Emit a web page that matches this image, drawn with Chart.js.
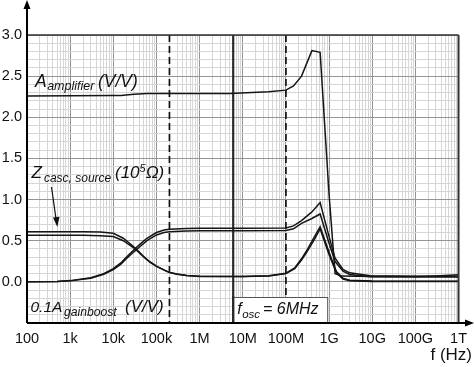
<!DOCTYPE html>
<html lang="en">
<head>
  <meta charset="UTF-8">
  <title>Amplifier gain, gain-boost gain and impedance vs frequency</title>
  <script src="https://cdn.jsdelivr.net/npm/chart.js@4.4.1/dist/chart.umd.min.js"></script>
  <style>
    html, body { margin:0; padding:0; background:#fff; }
    #wrap { width:474px; height:367px; }
  </style>
</head>
<body>
  <div id="wrap"><canvas id="chart" width="474" height="367"></canvas></div>
  <script>
    // values, frequency in Hz
    const ampFreq = [1e2, 1e3, 1e4, 1.5e4, 3e4, 6e4, 1e5, 1e6, 5e6, 4e7, 1e8, 1.5e8, 2.3e8, 4e8, 6.2e8, 1.0e9, 1.38e9, 2e9, 1e10, 1e11, 3e11, 1e12];
    const ampVal  = [2.26, 2.262, 2.264, 2.266, 2.28, 2.29, 2.29, 2.29, 2.29, 2.31, 2.33, 2.38, 2.50, 2.81, 2.79, 1.06, 0.10, 0.07, 0.065, 0.065, 0.072, 0.085];

    const zFreq = [1e2, 2e3, 5e3, 1e4, 1.7e4, 2.5e4, 3.2e4, 5e4, 7e4, 1e5, 1.5e5, 2e5, 3e5, 5e5, 1e6, 1e7, 4e7, 1e8, 1.6e8, 2.3e8, 3.2e8, 4.5e8, 6.2e8, 1.0e9, 1.48e9, 2.1e9, 3e9, 1e10, 1e12];
    const zCascVal   = [0.61, 0.61, 0.605, 0.59, 0.53, 0.46, 0.41, 0.31, 0.245, 0.19, 0.145, 0.115, 0.095, 0.078, 0.067, 0.065, 0.075, 0.105, 0.17, 0.28, 0.40, 0.54, 0.67, 0.36, 0.125, 0.045, 0.02, 0.01, 0.008];
    const zSourceVal = [0.565, 0.565, 0.56, 0.55, 0.50, 0.44, 0.40, 0.305, 0.24, 0.188, 0.143, 0.113, 0.093, 0.077, 0.066, 0.064, 0.072, 0.10, 0.16, 0.265, 0.38, 0.51, 0.645, 0.33, 0.11, 0.035, 0.012, 0.005, 0.004];

    const gbFreq = [1e2, 5e2, 1e3, 3e3, 6e3, 1e4, 1.5e4, 2e4, 3e4, 4e4, 6e4, 1e5, 1.5e5, 2e5, 5e5, 1e6, 1e7, 1e8, 1.5e8, 2.3e8, 4e8, 6.2e8, 1.0e9, 1.37e9, 2.1e9, 3e9, 9e9, 1e11, 1e12];
    const gbCascVal   = [0.0, 0.005, 0.015, 0.05, 0.1, 0.16, 0.23, 0.30, 0.39, 0.45, 0.53, 0.60, 0.63, 0.64, 0.648, 0.65, 0.652, 0.655, 0.68, 0.745, 0.85, 0.965, 0.55, 0.29, 0.15, 0.11, 0.075, 0.068, 0.068];
    const gbSourceVal = [0.0, 0.004, 0.012, 0.045, 0.092, 0.15, 0.215, 0.28, 0.365, 0.42, 0.50, 0.57, 0.60, 0.61, 0.617, 0.62, 0.622, 0.625, 0.645, 0.71, 0.77, 0.825, 0.47, 0.25, 0.13, 0.09, 0.062, 0.058, 0.058];

    const decadeLabels = ['100', '1k', '10k', '100k', '1M', '10M', '100M', '1G', '10G', '100G', '1T'];
    const dashedFreqs = [2e5, 1e8];
    const oscFreq = 6e6;

    const FONT = '"Liberation Sans", Arial, Helvetica, sans-serif';
    const toPts = (f, v) => f.map((x, i) => ({ x, y: v[i] }));
    const isDecade = v => Math.abs(Math.log10(v) - Math.round(Math.log10(v))) < 1e-9;
    const isHalf = v => Math.abs(v * 2 - Math.round(v * 2)) < 1e-6;

    function series(f, v) {
      return { data: toPts(f, v), showLine: true, borderColor: '#151515', borderWidth: 1.5, pointRadius: 0, tension: 0 };
    }

    function txt(ctx, s, x, y, size, italic) {
      ctx.font = (italic ? 'italic ' : '') + size + 'px ' + FONT;
      ctx.fillText(s, x, y);
      return x + ctx.measureText(s).width;
    }

    const decor = {
      id: 'decor',
      beforeDatasetsDraw(chart) {
        const { ctx, chartArea: a, scales: { x } } = chart;
        ctx.save();
        ctx.strokeStyle = '#111';
        ctx.lineWidth = 1.7;
        ctx.setLineDash([7, 4]);
        dashedFreqs.forEach(f => {
          const px = x.getPixelForValue(f);
          ctx.beginPath(); ctx.moveTo(px, a.top); ctx.lineTo(px, a.bottom); ctx.stroke();
        });
        ctx.setLineDash([]);
        ctx.strokeStyle = '#2a2a2a';
        ctx.lineWidth = 2.2;
        const ox = x.getPixelForValue(oscFreq);
        ctx.beginPath(); ctx.moveTo(ox, a.top); ctx.lineTo(ox, a.bottom); ctx.stroke();

        // f_osc box
        ctx.fillStyle = '#fff';
        ctx.fillRect(ox, 297, 94, a.bottom - 297);
        ctx.strokeStyle = '#555';
        ctx.lineWidth = 1;
        ctx.strokeRect(ox + 0.5, 297.5, 94, a.bottom - 297);
        ctx.strokeStyle = '#2a2a2a';
        ctx.lineWidth = 2.2;
        ctx.beginPath(); ctx.moveTo(ox, 296); ctx.lineTo(ox, a.bottom); ctx.stroke();
        ctx.fillStyle = '#111';
        let tx = txt(ctx, 'f', ox + 4, 313.5, 16, true);
        tx = txt(ctx, 'osc', tx + 0.5, 318, 11.5, true);
        txt(ctx, '= 6MHz', tx + 3, 313.5, 16, true);
        ctx.restore();
      },
      afterDraw(chart) {
        const { ctx, chartArea: a } = chart;
        ctx.save();
        // frame
        ctx.strokeStyle = '#333';
        ctx.lineWidth = 1.5;
        ctx.beginPath(); ctx.moveTo(a.left, a.top); ctx.lineTo(a.right, a.top); ctx.stroke();
        ctx.lineWidth = 2;
        ctx.beginPath(); ctx.moveTo(a.right, a.top); ctx.lineTo(a.right, a.bottom); ctx.stroke();
        // axes with arrows
        ctx.strokeStyle = '#000';
        ctx.fillStyle = '#000';
        ctx.lineWidth = 2;
        ctx.beginPath(); ctx.moveTo(a.left, a.bottom); ctx.lineTo(a.left, 6); ctx.stroke();
        ctx.beginPath(); ctx.moveTo(a.left, 0); ctx.lineTo(a.left - 3.5, 9); ctx.lineTo(a.left + 3.5, 9); ctx.closePath(); ctx.fill();
        ctx.beginPath(); ctx.moveTo(a.left, a.bottom); ctx.lineTo(468, a.bottom); ctx.stroke();
        ctx.beginPath(); ctx.moveTo(474, a.bottom); ctx.lineTo(465, a.bottom - 3.5); ctx.lineTo(465, a.bottom + 3.5); ctx.closePath(); ctx.fill();

        // labels
        ctx.fillStyle = '#111';
        let x = txt(ctx, 'A', 35, 87, 17.5, true);
        txt(ctx, 'amplifier', x + 0.5, 90, 12.5, true);
        txt(ctx, '(V/V)', 98, 87, 17.5, true);

        x = txt(ctx, 'Z', 31.5, 177.7, 17, true);
        txt(ctx, 'casc, source', x + 2, 181.7, 12, true);
        x = txt(ctx, '(10', 115, 177.7, 17, true);
        x = txt(ctx, '5', x, 171.5, 11, true);
        txt(ctx, 'Ω)', x, 177.7, 17, true);

        x = txt(ctx, '0.1A', 30.5, 311.7, 15.5, true);
        txt(ctx, 'gainboost', x + 1.5, 316, 12.2, true);
        txt(ctx, '(V/V)', 125, 312, 17, true);

        ctx.textAlign = 'right';
        txt(ctx, 'f (Hz)', 472, 360, 17, false);
        ctx.textAlign = 'left';

        // arrow pointing at the Z curves
        ctx.strokeStyle = '#111';
        ctx.lineWidth = 1.2;
        ctx.beginPath(); ctx.moveTo(51.5, 187); ctx.lineTo(56, 219); ctx.stroke();
        ctx.beginPath(); ctx.moveTo(57.3, 227); ctx.lineTo(53, 217.5); ctx.lineTo(59.5, 216.8); ctx.closePath(); ctx.fill();
        ctx.restore();
      }
    };

    new Chart(document.getElementById('chart'), {
      type: 'scatter',
      data: {
        datasets: [
          series(ampFreq, ampVal),
          series(zFreq, zCascVal),
          series(zFreq, zSourceVal),
          series(gbFreq, gbCascVal),
          series(gbFreq, gbSourceVal)
        ]
      },
      options: {
        responsive: false,
        animation: false,
        layout: { padding: { left: 0, top: 35, right: 15, bottom: 0 } },
        plugins: { legend: { display: false }, tooltip: { enabled: false } },
        scales: {
          x: {
            type: 'logarithmic',
            min: 1e2,
            max: 1e12,
            afterBuildTicks: scale => {
              const t = [];
              for (let e = 2; e <= 12; e++) {
                for (let m = 1; m <= 9; m++) {
                  if (e === 12 && m > 1) break;
                  t.push({ value: m * Math.pow(10, e) });
                }
              }
              scale.ticks = t;
            },
            afterFit: scale => { scale.height = 44; },
            border: { display: false },
            grid: {
              drawTicks: false,
              color: c => (c.tick && isDecade(c.tick.value)) ? '#959595' : '#d6d6d6',
              lineWidth: 1
            },
            ticks: {
              autoSkip: false,
              maxRotation: 0,
              padding: 7,
              color: '#111',
              font: { size: 14.5, family: FONT },
              callback: v => isDecade(v) ? decadeLabels[Math.round(Math.log10(v)) - 2] : ''
            }
          },
          y: {
            min: -0.5,
            max: 3.0,
            afterBuildTicks: scale => {
              const t = [];
              for (let k = -5; k <= 30; k++) t.push({ value: k / 10 });
              scale.ticks = t;
            },
            afterFit: scale => { scale.width = 27; },
            border: { display: false },
            grid: {
              drawTicks: false,
              color: c => (c.tick && isHalf(c.tick.value)) ? '#959595' : '#d6d6d6',
              lineWidth: 1
            },
            ticks: {
              autoSkip: false,
              padding: 5,
              color: '#111',
              font: { size: 14.5, family: FONT },
              callback: v => (isHalf(v) && v >= 0) ? v.toFixed(1) : ''
            }
          }
        }
      },
      plugins: [decor]
    });
  </script>
</body>
</html>
